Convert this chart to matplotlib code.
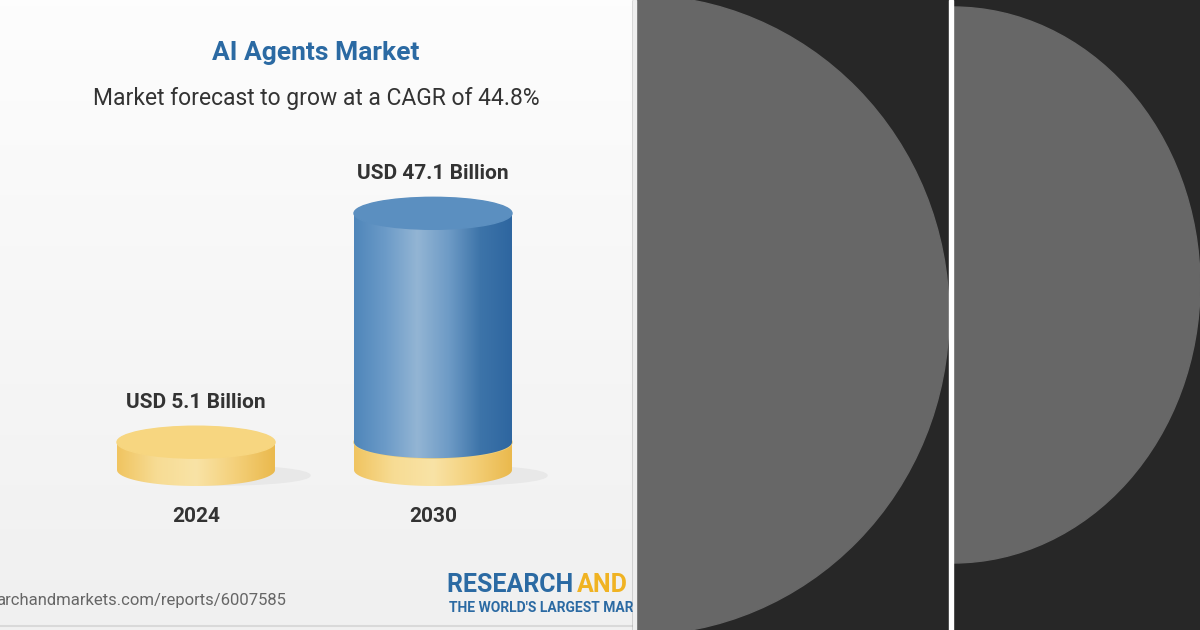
import numpy as np
import matplotlib
matplotlib.use("Agg")
import matplotlib.pyplot as plt
from matplotlib.patches import Ellipse, Rectangle, Polygon

plt.rcParams["font.family"] = ["Roboto", "DejaVu Sans"]

# data
years = ["2024", "2030"]
values = [5.1, 47.1]           # USD billion
labels = ["USD 5.1 Billion", "USD 47.1 Billion"]
base_value = 5.1                # yellow base under the 2030 cylinder
title = "AI Agents Market"
subtitle = "Market forecast to grow at a CAGR of 44.8%"
source = "archandmarkets.com/reports/6007585"

W, H = 1200, 630
fig = plt.figure(figsize=(W / 100, H / 100), dpi=100)
fig.patch.set_facecolor("#f7f7f7")

# page axes in pixel coordinates (y down) for decoration
page = fig.add_axes([0, 0, 1, 1])
page.set_xlim(0, W)
page.set_ylim(H, 0)
page.axis("off")

# left panel background gradient
grad = np.linspace(0, 1, 100)[:, None] * np.ones((1, 2))
page.imshow(grad, extent=[0, 633, 630, 0], cmap=matplotlib.colors.LinearSegmentedColormap.from_list(
    "bg", ["#fdfdfd", "#f0f0f0"]), aspect="auto", zorder=0)
page.plot([0, 633], [626, 626], color="#d9d9d9", lw=1.5, zorder=1)

# texts
page.text(316, 53, title, ha="center", va="center", fontsize=19, fontweight="bold", color="#2b6aa3")
page.text(316, 99, subtitle, ha="center", va="center", fontsize=16.5, color="#333333")
page.text(-4, 601, source, ha="left", va="center", fontsize=12, color="#666666")
page.text(447, 585, "RESEARCH ", ha="left", va="center", fontsize=18, fontweight="bold", color="#2b6aa3")
page.text(577, 585, "AND", ha="left", va="center", fontsize=18, fontweight="bold", color="#f0b323")
page.text(449, 608, "THE WORLD'S LARGEST MARKET", ha="left", va="center", fontsize=10,
          fontweight="bold", color="#2b6aa3")

# right panels
page.add_patch(Rectangle((633, 0), 567, 630, color="#272727", zorder=5))
e1 = Ellipse((636, 315), 626, 640, color="#676767", zorder=6)
page.add_patch(e1)
e1.set_clip_path(Rectangle((636, 0), 313, 630, transform=page.transData))
e2 = Ellipse((953, 285), 494, 556, color="#676767", zorder=6)
page.add_patch(e2)
e2.set_clip_path(Rectangle((953, 0), 247, 630, transform=page.transData))
page.add_patch(Rectangle((949, 0), 4, 630, color="white", zorder=7))
page.add_patch(Rectangle((633, 0), 3, 630, color="#eeeeee", zorder=7))

# chart axes: data units (billions)
ax = fig.add_axes([0, 0, 633 / W, 1], zorder=2)
ax.set_facecolor("none")
ax.axis("off")
ppb = 5.45                                    # pixels per billion
ax.set_xlim(0, 633)
ax.set_ylim(-(630 - 470) / ppb, 470 / ppb)
centers = [196, 433]
half_w = 79
ell_h = 32 / ppb                               # ellipse height in data units

blue_cm = matplotlib.colors.LinearSegmentedColormap.from_list(
    "b", ["#4f86ba", "#6c9bc8", "#93b5d4", "#6e9bc6", "#3d74a9", "#2e66a0"])
gold_cm = matplotlib.colors.LinearSegmentedColormap.from_list(
    "g", ["#f0c460", "#f7dc94", "#f9e3a6", "#f4d07a", "#eab94d"])
hgrad = np.linspace(0, 1, 256)[None, :]


def cylinder(cx, y0, y1, cmap, top_color, z):
    t = np.linspace(np.pi, 2 * np.pi, 60)
    bx = cx + half_w * np.cos(t)
    by = y0 + ell_h / 2 * np.sin(t)
    pts = [(cx - half_w, y1)] + list(zip(bx, by)) + [(cx + half_w, y1)]
    poly = Polygon(pts, closed=True, facecolor="none", edgecolor="none", zorder=z)
    ax.add_patch(poly)
    im = ax.imshow(hgrad, extent=[cx - half_w, cx + half_w, y0 - ell_h, y1],
                   cmap=cmap, aspect="auto", zorder=z)
    im.set_clip_path(poly)
    ax.add_patch(Ellipse((cx, y1), 2 * half_w, ell_h, color=top_color, zorder=z + 0.5))


for i, (cx, v) in enumerate(zip(centers, values)):
    # soft shadow
    ax.add_patch(Ellipse((cx + 25, -1.0), 2 * half_w + 20, ell_h * 0.6, color="#e8e8e8", zorder=2))
    if v > base_value:
        cylinder(cx, 0, base_value, gold_cm, "#f4d27c", 3)
        cylinder(cx, base_value, v, blue_cm, "#5b8fc0", 4)
    else:
        cylinder(cx, 0, v, gold_cm, "#f7d680", 3)
    ax.text(cx, v + ell_h / 2 + 4.3, labels[i], ha="center", va="center",
            fontsize=15, fontweight="bold", color="#333333")
    ax.text(cx, -8.5, years[i], ha="center", va="center", fontsize=15,
            fontweight="bold", color="#333333")

fig.savefig("out.png", dpi=100, facecolor=fig.get_facecolor())
